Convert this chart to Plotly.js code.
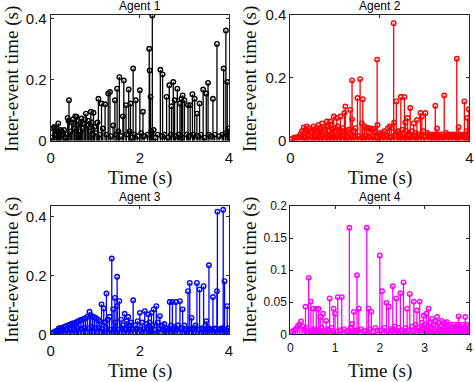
<!DOCTYPE html>
<html><head><meta charset="utf-8">
<script src="https://cdn.plot.ly/plotly-3.0.1.min.js"></script>
<style>html,body{margin:0;padding:0;background:#fff}#plot{width:474px;height:382px}</style>
</head><body><div id="plot"></div>
<script>
// ---- data (time of event [s], inter-event time [s]) ----
var agentNames = ["Agent 1", "Agent 2", "Agent 3", "Agent 4"];
var agentColors = ["#000000", "#ff0000", "#0000ff", "#ff00ff"];
var xTitle = "Time (s)";
var yTitle = "Inter-event time (s)";

var agent1Time = [0.17,0.41,0.58,0.69,0.79,0.90,0.96,1.07,1.14,1.22,1.29,1.33,1.44,1.49,1.54,1.64,1.69,1.75,1.79,1.85,1.91,2.00,2.07,2.21,2.22,2.24,2.28,2.31,2.46,2.51,2.60,2.66,2.71,2.75,2.78,2.84,2.90,2.93,2.96,3.00,3.08,3.13,3.18,3.23,3.28,3.34,3.42,3.49,3.53,3.64,3.73,3.88,3.93,3.96,
  0.02,0.05,0.08,0.10,0.13,0.15,0.18,0.20,0.22,0.25,0.28,0.30,0.33,0.36,0.38,0.40,0.44,0.47,0.50,0.53,0.55,0.60,0.62,0.65,0.67,0.72,0.75,0.77,0.82,0.85,0.88,0.92,0.95,0.98,1.02,1.05,1.10,1.17,1.25,1.35,1.40,1.47,1.52,1.58,1.62,1.70,1.77,1.82,1.88,1.95,2.03,2.10,2.17,2.26,2.35,2.40,2.50,2.55,2.63,2.70,2.80,2.87,2.95,3.05,3.10,3.20,3.30,3.37,3.45,3.55,3.60,3.68,3.78,3.85,3.92,3.98,3.99];
var agent1Gap = [0.057,0.133,0.079,0.073,0.089,0.095,0.092,0.138,0.122,0.120,0.155,0.160,0.133,0.171,0.209,0.198,0.117,0.168,0.122,0.237,0.133,0.166,0.095,0.302,0.231,0.144,0.411,0.035,0.233,0.218,0.144,0.182,0.113,0.193,0.133,0.171,0.122,0.138,0.149,0.133,0.117,0.117,0.153,0.138,0.089,0.122,0.168,0.155,0.190,0.138,0.318,0.237,0.362,0.193,
  0.010,0.040,0.045,0.020,0.040,0.030,0.025,0.015,0.035,0.030,0.020,0.035,0.010,0.020,0.075,0.065,0.030,0.060,0.070,0.040,0.080,0.050,0.065,0.030,0.060,0.040,0.055,0.070,0.050,0.065,0.030,0.060,0.020,0.045,0.025,0.060,0.020,0.040,0.020,0.015,0.050,0.020,0.030,0.015,0.080,0.020,0.030,0.010,0.020,0.015,0.025,0.015,0.020,0.030,0.010,0.020,0.015,0.020,0.010,0.020,0.015,0.020,0.010,0.020,0.015,0.020,0.015,0.020,0.010,0.020,0.015,0.020,0.015,0.020,0.025,0.020,0.040];

var agent2Time = [0.30,0.37,0.52,0.63,0.71,0.82,0.89,0.97,1.04,1.12,1.21,1.23,1.34,1.38,1.38,1.50,1.56,1.60,1.62,1.94,1.95,2.31,2.32,2.37,2.47,2.55,2.57,2.62,2.68,2.76,2.83,2.91,2.94,3.02,3.24,3.28,3.44,3.72,3.76,3.89,3.96,3.99,
  0.02,0.06,0.10,0.14,0.18,0.22,0.26,0.30,0.34,0.38,0.42,0.46,0.50,0.54,0.58,0.62,0.66,0.70,0.74,0.78,0.82,0.86,0.90,0.94,0.98,1.02,1.06,1.10,1.14,1.18,1.26,1.30,1.42,1.46,1.66,1.70,1.74,1.78,1.82,1.86,1.90,1.98,2.02,2.06,2.10,2.14,2.18,2.22,2.26,2.40,2.44,2.50,2.59,2.66,2.72,2.80,2.86,2.98,3.06,3.10,3.14,3.18,3.30,3.34,3.38,3.48,3.52,3.56,3.60,3.64,3.68,3.80,3.84,3.90,3.94,3.98,
  0.24,0.32,0.40,0.48,0.56,0.64,0.72,0.80,0.88,0.96,1.04,1.12,1.20,1.28,1.36,1.44,1.52,1.60,1.68,1.76,1.84,1.92,2.00,2.08,2.16,2.24,2.32,2.42,2.48,2.56,2.64,2.70,2.78,2.84,2.92,3.00,3.08,3.16,3.22,3.26,3.32,3.40,3.46,3.54,3.62,3.70,3.74,3.78,3.86,3.92];
var agent2Gap = [0.042,0.045,0.045,0.050,0.055,0.061,0.061,0.077,0.072,0.077,0.088,0.109,0.098,0.192,0.068,0.136,0.196,0.055,0.132,0.258,0.050,0.374,0.058,0.125,0.139,0.139,0.058,0.072,0.104,0.055,0.066,0.088,0.077,0.088,0.111,0.039,0.144,0.261,0.043,0.125,0.072,0.100,
  0.005,0.008,0.010,0.010,0.012,0.020,0.030,0.025,0.035,0.030,0.040,0.028,0.035,0.030,0.040,0.032,0.038,0.030,0.042,0.035,0.045,0.030,0.050,0.035,0.040,0.030,0.045,0.035,0.030,0.040,0.030,0.035,0.030,0.040,0.045,0.040,0.040,0.040,0.035,0.038,0.030,0.025,0.020,0.025,0.030,0.020,0.040,0.045,0.040,0.030,0.025,0.035,0.030,0.020,0.030,0.025,0.020,0.030,0.025,0.020,0.018,0.020,0.020,0.018,0.020,0.025,0.020,0.018,0.020,0.018,0.020,0.020,0.018,0.020,0.030,0.020,
  0.012,0.010,0.015,0.012,0.014,0.010,0.016,0.012,0.015,0.010,0.014,0.012,0.016,0.010,0.014,0.012,0.015,0.010,0.016,0.012,0.014,0.010,0.015,0.012,0.014,0.010,0.016,0.012,0.014,0.010,0.015,0.012,0.014,0.010,0.016,0.012,0.014,0.010,0.015,0.012,0.014,0.010,0.016,0.012,0.014,0.010,0.015,0.012,0.014,0.010];

var agent3Time = [0.87,1.14,1.19,1.25,1.37,1.40,1.44,1.49,1.49,1.54,1.66,1.74,1.85,2.00,2.11,2.19,2.26,2.31,2.37,2.45,2.67,2.73,2.81,2.90,2.96,3.08,3.12,3.16,3.28,3.34,3.43,3.49,3.55,3.64,3.73,3.74,3.87,3.90,3.96,
  0.02,0.06,0.10,0.14,0.18,0.22,0.26,0.30,0.34,0.38,0.42,0.46,0.50,0.54,0.58,0.62,0.66,0.70,0.74,0.78,0.82,0.90,0.94,0.98,1.02,1.06,1.10,1.20,1.28,1.32,1.45,1.58,1.62,1.70,1.78,1.80,1.90,1.95,2.05,2.15,2.22,2.28,2.40,2.50,2.55,2.60,2.70,2.78,2.85,2.95,3.00,3.05,3.20,3.25,3.38,3.47,3.52,3.60,3.68,3.78,3.82,3.93,3.98,
  0.12,0.20,0.28,0.36,0.44,0.52,0.60,0.68,0.76,0.84,0.92,1.00,1.08,1.16,1.24,1.34,1.42,1.52,1.60,1.68,1.76,1.84,1.92,2.02,2.08,2.18,2.24,2.34,2.42,2.52,2.58,2.64,2.76,2.84,2.92,3.02,3.10,3.18,3.24,3.32,3.40,3.46,3.56,3.62,3.70,3.80,3.86,3.94];
var agent3Gap = [0.077,0.102,0.088,0.139,0.258,0.085,0.124,0.196,0.096,0.113,0.070,0.059,0.116,0.073,0.079,0.068,0.073,0.085,0.096,0.062,0.110,0.110,0.110,0.113,0.085,0.147,0.175,0.056,0.175,0.153,0.164,0.045,0.235,0.127,0.147,0.418,0.424,0.181,0.096,
  0.004,0.006,0.010,0.012,0.020,0.022,0.018,0.025,0.028,0.030,0.032,0.035,0.038,0.036,0.042,0.045,0.048,0.050,0.052,0.055,0.060,0.065,0.060,0.058,0.055,0.050,0.045,0.040,0.050,0.060,0.040,0.050,0.030,0.045,0.030,0.040,0.030,0.045,0.040,0.035,0.040,0.030,0.040,0.030,0.035,0.020,0.030,0.025,0.030,0.020,0.030,0.015,0.020,0.030,0.020,0.030,0.020,0.015,0.020,0.015,0.020,0.015,0.020,
  0.008,0.012,0.015,0.014,0.018,0.015,0.020,0.018,0.022,0.020,0.025,0.020,0.022,0.018,0.020,0.015,0.018,0.016,0.020,0.015,0.018,0.016,0.020,0.015,0.018,0.016,0.020,0.015,0.018,0.016,0.020,0.015,0.018,0.016,0.020,0.015,0.018,0.016,0.020,0.015,0.018,0.016,0.020,0.015,0.018,0.016,0.020,0.015];

var agent4Time = [0.34,0.41,0.46,0.51,0.58,0.63,0.67,0.73,0.80,0.88,0.97,1.00,1.06,1.15,1.32,1.38,1.42,1.49,1.53,1.71,1.75,1.81,2.00,2.05,2.15,2.20,2.29,2.37,2.46,2.53,2.61,2.67,2.76,2.83,2.89,2.98,3.04,3.09,3.17,3.28,3.39,3.50,3.76,3.91,
  0.00,0.04,0.08,0.12,0.16,0.20,0.24,0.28,0.32,0.36,0.44,0.54,0.60,0.70,0.76,0.84,0.92,1.10,1.20,1.26,1.35,1.46,1.58,1.64,1.78,1.90,1.94,2.10,2.25,2.33,2.42,2.50,2.58,2.72,2.80,2.86,2.94,3.00,3.06,3.12,3.20,3.24,3.32,3.36,3.44,3.48,3.54,3.58,3.62,3.66,3.70,3.74,3.80,3.84,3.88,3.94,3.98,
  0.48,0.56,0.64,0.78,0.86,0.95,1.04,1.13,1.30,1.40,1.51,1.68,1.86,2.03,2.18,2.27,2.40,2.55,2.64,2.74,2.90,2.97,3.02,3.10,3.15,3.22,3.30,3.34,3.42,3.46,3.52,3.56,3.64,3.68,3.72,3.78,3.82,3.86,3.90,3.96];
var agent4Gap = [0.043,0.088,0.051,0.040,0.040,0.040,0.027,0.032,0.021,0.056,0.040,0.032,0.058,0.058,0.166,0.016,0.035,0.092,0.040,0.166,0.040,0.035,0.123,0.067,0.049,0.043,0.075,0.056,0.064,0.081,0.040,0.063,0.051,0.037,0.051,0.029,0.032,0.040,0.024,0.027,0.021,0.019,0.028,0.027,
  0.002,0.004,0.006,0.008,0.012,0.015,0.020,0.012,0.008,0.010,0.005,0.008,0.006,0.010,0.005,0.008,0.010,0.006,0.008,0.005,0.010,0.006,0.008,0.005,0.008,0.010,0.006,0.010,0.008,0.012,0.010,0.006,0.010,0.012,0.015,0.010,0.018,0.015,0.012,0.018,0.015,0.020,0.018,0.012,0.018,0.015,0.012,0.015,0.010,0.015,0.012,0.015,0.012,0.015,0.010,0.015,0.012,
  0.004,0.006,0.005,0.004,0.006,0.005,0.004,0.006,0.005,0.004,0.006,0.005,0.004,0.006,0.005,0.006,0.005,0.004,0.006,0.005,0.006,0.008,0.005,0.006,0.008,0.005,0.006,0.008,0.005,0.006,0.008,0.005,0.006,0.008,0.005,0.006,0.008,0.005,0.006,0.008];

var yMax = [0.413, 0.40, 0.437, 0.20];
var xTicks = [[0,2,4],[0,2,4],[0,2,4],[0,1,2,3,4]];
var yTicks = [[0,0.2,0.4],[0,0.2,0.4],[0,0.2,0.4],[0,0.05,0.1,0.15,0.2]];
var yTickText = [["0","0.2","0.4"],["0","0.2","0.4"],["0","0.2","0.4"],["0","0.05","0.1","0.15","0.2"]];

var times = [agent1Time, agent2Time, agent3Time, agent4Time];
var gaps = [agent1Gap, agent2Gap, agent3Gap, agent4Gap];

// ---- layout geometry (pixels in a 474x382 figure) ----
var W = 474, H = 382;
var xDom = [[50.7/W, 229/W], [290.3/W, 469.3/W]];
var yDom = [[1-140.7/H, 1-15/H], [1-334.3/H, 1-206/H]];
var xTitleY = [178, 371];      // centre of "Time (s)" per row
var yTitleX = [12, 250];       // centre of "Inter-event time (s)" per column
var yTitleY = [79, 270];

var traces = [];
var layout = {
  width: W, height: H, margin: {l:0, r:0, t:0, b:0},
  paper_bgcolor: "#fff", plot_bgcolor: "#fff", showlegend: false,
  annotations: []
};
var serif = {family: "Liberation Serif, Times New Roman, serif", size: 19, color: "#111"};

for (var i = 0; i < 4; i++) {
  var col = i % 2, row = Math.floor(i / 2);
  var sfx = i === 0 ? "" : String(i + 1);
  traces.push({
    type: "scatter", mode: "markers",
    x: times[i], y: gaps[i],
    xaxis: "x" + sfx, yaxis: "y" + sfx,
    marker: {symbol: "circle-open", size: 4.5, color: agentColors[i], line: {width: 1.4, color: agentColors[i]}},
    error_y: {type: "data", symmetric: false, array: gaps[i].map(function(){return 0;}), arrayminus: gaps[i],
              width: 0, thickness: 1.3, color: agentColors[i]},
    hoverinfo: "x+y"
  });
  var small = (i === 3);
  var tf = {family: "Liberation Sans, Arial, sans-serif", size: small ? 12 : 15, color: "#111"};
  layout["xaxis" + sfx] = {
    domain: xDom[col], anchor: "y" + sfx, range: [0, 4],
    tickvals: xTicks[i], ticktext: xTicks[i].map(String),
    ticks: "inside", ticklen: 3, tickwidth: 1, tickcolor: "#262626",
    showline: true, linecolor: "#262626", linewidth: 1, mirror: "ticks",
    showgrid: false, zeroline: false, tickfont: tf, ticklabelstandoff: small ? 2 : 3
  };
  layout["yaxis" + sfx] = {
    domain: yDom[row], anchor: "x" + sfx, range: [0, yMax[i]],
    tickvals: yTicks[i], ticktext: yTickText[i],
    ticks: "inside", ticklen: 3, tickwidth: 1, tickcolor: "#262626",
    showline: true, linecolor: "#262626", linewidth: 1, mirror: "ticks",
    showgrid: false, zeroline: false, tickfont: tf
  };
  layout.annotations.push({
    text: agentNames[i], xref: "paper", yref: "paper",
    x: (xDom[col][0] + xDom[col][1]) / 2, y: yDom[row][1],
    xanchor: "center", yanchor: "bottom", showarrow: false,
    font: {family: "Liberation Sans, Arial, sans-serif", size: 12, color: "#000"}
  });
  layout.annotations.push({
    text: xTitle, xref: "paper", yref: "paper",
    x: (xDom[col][0] + xDom[col][1]) / 2, y: 1 - xTitleY[row] / H,
    xanchor: "center", yanchor: "middle", showarrow: false, font: serif
  });
  layout.annotations.push({
    text: yTitle, xref: "paper", yref: "paper", textangle: -90,
    x: yTitleX[col] / W, y: 1 - yTitleY[row] / H,
    xanchor: "center", yanchor: "middle", showarrow: false, font: serif
  });
}

Plotly.newPlot("plot", traces, layout, {displayModeBar: false, staticPlot: true});
</script>
</body></html>
